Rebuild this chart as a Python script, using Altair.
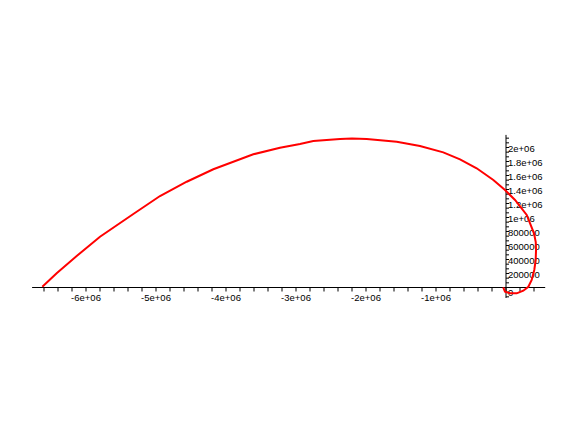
import altair as alt
import pandas as pd

# Curve points (x, y) along the path
curve_x = [-40000, -14000, 57000, 153000, 247000, 319000, 367000, 404000, 424000, 429000,
           425000, 400000, 296000, 129000, -14000, -181000, -419000, -657000, -896000,
           -1229000, -1561000, -1990000, -2200000, -2371000, -2753000, -2943000, -3229000,
           -3610000, -4181000, -4561000, -4943000, -5324000, -5800000, -6133000, -6419000,
           -6624000]
curve_y = [3000, -60000, -83000, -83000, -46000, 11000, 107000, 250000, 393000, 536000,
           650000, 774000, 1036000, 1250000, 1393000, 1536000, 1703000, 1831000, 1931000,
           2021000, 2083000, 2121000, 2128000, 2121000, 2093000, 2050000, 1997000,
           1903000, 1689000, 1511000, 1307000, 1050000, 726000, 450000, 203000, 11000]

# Axis extents
x_axis_ends = [-6770000, 560000]
y_axis_ends = [-150000, 2180000]

# Tick values and labels
x_major = [-6000000, -5000000, -4000000, -3000000, -2000000, -1000000]
x_major_labels = ["-6e+06", "-5e+06", "-4e+06", "-3e+06", "-2e+06", "-1e+06"]
x_minor = [v * 200000 for v in range(-33, 3)]
y_major = [200000, 400000, 600000, 800000, 1000000, 1200000, 1400000, 1600000, 1800000, 2000000]
y_major_labels = ["200000", "400000", "600000", "800000", "1e+06", "1.2e+06", "1.4e+06",
                  "1.6e+06", "1.8e+06", "2e+06"]
y_minor = [round(v * 200000 / 3) for v in range(-2, 33)]

W, H = 572, 422
XDOM = [-7114300, 1057100]
YDOM = [-2035700, 3992900]
FONT = "Liberation Sans"
FS = 9.5
PX = 1000000 / 70.0  # data units per pixel (approx)

XS = alt.Scale(domain=XDOM, nice=False, zero=False)
YS = alt.Scale(domain=YDOM, nice=False, zero=False)


def X(field):
    return alt.X(field, type="quantitative", scale=XS, axis=None)


def Y(field):
    return alt.Y(field, type="quantitative", scale=YS, axis=None)


def XD(v):
    return alt.X(datum=v, type="quantitative", scale=XS, axis=None)


def YD(v):
    return alt.Y(datum=v, type="quantitative", scale=YS, axis=None)


curve_df = pd.DataFrame({"x": curve_x, "y": curve_y, "i": list(range(len(curve_x)))})
xa_df = pd.DataFrame({"x": [x_axis_ends[0]], "x2": [x_axis_ends[1]], "y": [0]})
ya_df = pd.DataFrame({"y": [y_axis_ends[0]], "y2": [y_axis_ends[1]], "x": [0]})
xt_df = pd.DataFrame({"x": x_minor})
yt_df = pd.DataFrame({"y": y_minor})
xl_df = pd.DataFrame({"x": x_major, "label": x_major_labels})
yl_df = pd.DataFrame({"y": y_major, "label": y_major_labels})
y0_df = pd.DataFrame({"y": [0], "label": ["0"]})

x_axis = alt.Chart(xa_df).mark_rule(color="black", strokeWidth=1).encode(
    x=X("x"), x2="x2", y=Y("y"))
y_axis = alt.Chart(ya_df).mark_rule(color="black", strokeWidth=1).encode(
    y=Y("y"), y2="y2", x=X("x"))

x_ticks = alt.Chart(xt_df).mark_rule(color="black", strokeWidth=1).encode(
    x=X("x"), y=YD(0), y2=alt.Y2(datum=-4 * PX))
y_ticks = alt.Chart(yt_df).mark_rule(color="black", strokeWidth=1).encode(
    y=Y("y"), x=XD(0), x2=alt.X2(datum=3 * PX))

x_labels = alt.Chart(xl_df).mark_text(
    font=FONT, fontSize=FS, color="black", align="center", baseline="middle", dy=10
).encode(x=X("x"), y=YD(0), text="label:N")
y_labels = alt.Chart(yl_df).mark_text(
    font=FONT, fontSize=FS, color="black", align="left", baseline="middle", dx=2, dy=1
).encode(y=Y("y"), x=XD(0), text="label:N")
y0_label = alt.Chart(y0_df).mark_text(
    font=FONT, fontSize=FS, color="black", align="left", baseline="middle", dx=2, dy=5
).encode(y=Y("y"), x=XD(0), text="label:N")

curve = alt.Chart(curve_df).mark_line(color="#ff0000", strokeWidth=2).encode(
    x=X("x"), y=Y("y"), order="i:Q")

chart = alt.layer(
    x_axis, y_axis, x_ticks, y_ticks, x_labels, y_labels, y0_label, curve
).properties(
    width=W, height=H, padding=0, autosize=alt.AutoSizeParams(type="none")
).configure_view(stroke=None)

chart.save("out.html", embed_options={"renderer": "svg", "actions": False})
